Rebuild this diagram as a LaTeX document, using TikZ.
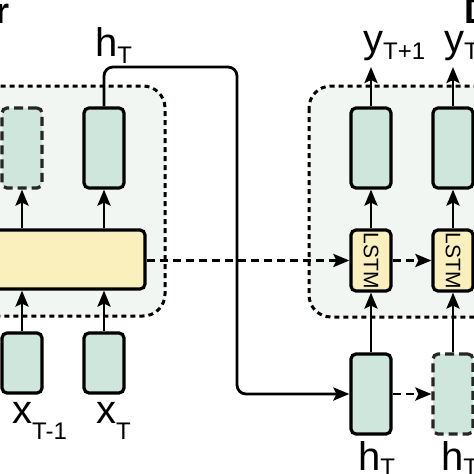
\documentclass[tikz,border=0pt]{standalone}
\usepackage{fontspec}
\setmainfont{Liberation Sans}
\usetikzlibrary{arrows.meta}
\definecolor{boxgreen}{HTML}{CFE6DC}
\definecolor{boxyellow}{HTML}{FAF0BE}
\definecolor{panelfill}{HTML}{F1F6F3}
\newcommand{\sublbl}[3]{#1\raisebox{-#3pt}{\fontsize{24}{24}\selectfont #2}}
\tikzset{
  panel/.style={draw=black, fill=panelfill, line width=3pt, dash pattern=on 5pt off 4pt, rounded corners=22pt},
  gbox/.style={draw=black, fill=boxgreen, line width=3.2pt, rounded corners=5pt, minimum width=40pt, inner sep=0pt},
  gboxdash/.style={gbox, draw=black!85, dash pattern=on 9pt off 5pt},
  ybox/.style={draw=black, fill=boxyellow, line width=3.2pt, rounded corners=5pt, minimum width=40pt, minimum height=61pt, inner sep=0pt},
  lbl/.style={inner sep=0pt, font=\fontsize{40}{44}\selectfont},
  ttl/.style={inner sep=0pt, font=\fontsize{36}{40}\selectfont\bfseries},
  tip/.style={-{Stealth[length=16pt,width=13pt,inset=3pt]}},
  arr/.style={line width=2.8pt, tip},
  darr/.style={arr, dash pattern=on 8pt off 5pt},
  conn/.style={line width=2.8pt}
}
\begin{document}
\begin{tikzpicture}[x=1pt,y=-1pt]
\useasboundingbox (0,0) rectangle (474,474);
\clip (0,0) rectangle (474,474);

% titles
\node[ttl, anchor=base east] (enct) at (10,23) {Encoder};
\node[ttl, anchor=base west] (dect) at (464,23) {Decoder};

% panels
\draw[panel] (-40,86) rectangle (165,316);
\draw[panel] (309,86) rectangle (530,317);

% encoder
\node[gboxdash, minimum height=80pt] (et1) at (22,148) {};
\node[gbox, minimum height=80pt] (et2) at (104,148) {};
\node[draw=black, fill=boxyellow, line width=3.2pt, rounded corners=5pt, minimum width=203pt, minimum height=59pt, inner sep=0pt] (enc) at (43.5,259.5) {};
\node[gbox, minimum height=60pt] (eb1) at (22,363) {};
\node[gbox, minimum height=60pt] (eb2) at (104,363) {};

\draw[arr] (enc.north -| et1) -- (et1.south);
\draw[arr] (enc.north -| et2) -- (et2.south);
\draw[arr] (eb1.north) -- (enc.south -| eb1);
\draw[arr] (eb2.north) -- (enc.south -| eb2);

\node[lbl, anchor=base west] (lx1) at (12,423) {\sublbl{x}{T-1}{16}};
\node[lbl, anchor=base west] (lx2) at (96,423) {\sublbl{x}{T}{16}};
\node[lbl, anchor=base west] (lh0) at (95,56) {\sublbl{h}{T}{7}};

% decoder
\node[gbox, minimum height=80pt] (dt1) at (371,148) {};
\node[gbox, minimum height=80pt] (dt2) at (453,148) {};
\node[ybox] (l1) at (371,260.5) {\rotatebox{-90}{\fontsize{21}{21}\selectfont LSTM}};
\node[ybox] (l2) at (453,260.5) {\rotatebox{-90}{\fontsize{21}{21}\selectfont LSTM}};
\node[gbox, minimum height=80pt] (db1) at (371,394) {};
\node[gboxdash, minimum height=80pt] (db2) at (453,394) {};

\coordinate (yt1) at (371,67);
\coordinate (yt2) at (453,67);
\draw[arr] (dt1.north) -- (yt1);
\draw[arr] (dt2.north) -- (yt2);
\draw[arr] (l1.north) -- (dt1.south);
\draw[arr] (l2.north) -- (dt2.south);
\draw[arr] (db1.north) -- (l1.south);
\draw[arr] (db2.north) -- (l2.south);
\draw[darr] (l1.east) -- (l2.west);
\draw[darr] (db1.east) -- (db2.west);
\draw[darr] (enc.east |- l1.west) -- (l1.west);

\node[lbl, anchor=base west] (ly1) at (363,52) {\sublbl{y}{T+1}{7}};
\node[lbl, anchor=base west] (ly2) at (444,52) {\sublbl{y}{T}{7}};
\node[lbl, anchor=base west] (lh1) at (358,470) {\sublbl{h}{T}{5}};
\node[lbl, anchor=base west] (lh2) at (441,470) {\sublbl{h}{T}{5}};

% hidden state connector
\coordinate (c1) at (237,67);
\draw[conn, tip, rounded corners=9pt] (et2.north) |- (c1) |- (db1.west);
\end{tikzpicture}
\end{document}
